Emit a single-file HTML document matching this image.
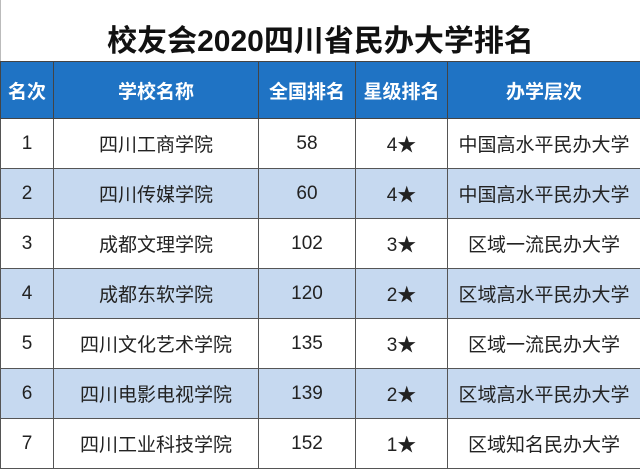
<!DOCTYPE html>
<html><head><meta charset="utf-8"><style>
body{margin:0;width:640px;height:469px;background:#fff;font-family:"Liberation Sans","Noto Sans CJK SC",sans-serif;overflow:hidden;position:relative}
.title{position:absolute;left:0;top:0;width:640px;height:61px;text-align:center;font-size:30px;font-weight:bold;line-height:84px;color:#111;border-left:1px solid #bbb;box-sizing:border-box}
table{position:absolute;left:0;top:61px;border-collapse:collapse;width:640px;table-layout:fixed}
td{border:1px solid #555;text-align:center;font-size:19px;color:#222;height:49px;padding:0}
th{background:#1f73c4;color:#fff;font-size:19px;font-weight:bold;height:56px;border:1px solid #444;padding:0}
tr.b td{background:#c6d9f0}
</style></head><body>
<div class="title">校友会2020四川省民办大学排名</div>
<table>
<colgroup><col style="width:53px"><col style="width:205px"><col style="width:97px"><col style="width:92px"><col style="width:193px"></colgroup>
<tr><th>名次</th><th>学校名称</th><th>全国排名</th><th>星级排名</th><th>办学层次</th></tr>
<tr><td>1</td><td>四川工商学院</td><td>58</td><td>4★</td><td>中国高水平民办大学</td></tr>
<tr class="b"><td>2</td><td>四川传媒学院</td><td>60</td><td>4★</td><td>中国高水平民办大学</td></tr>
<tr><td>3</td><td>成都文理学院</td><td>102</td><td>3★</td><td>区域一流民办大学</td></tr>
<tr class="b"><td>4</td><td>成都东软学院</td><td>120</td><td>2★</td><td>区域高水平民办大学</td></tr>
<tr><td>5</td><td>四川文化艺术学院</td><td>135</td><td>3★</td><td>区域一流民办大学</td></tr>
<tr class="b"><td>6</td><td>四川电影电视学院</td><td>139</td><td>2★</td><td>区域高水平民办大学</td></tr>
<tr><td>7</td><td>四川工业科技学院</td><td>152</td><td>1★</td><td>区域知名民办大学</td></tr>
</table>
</body></html>
